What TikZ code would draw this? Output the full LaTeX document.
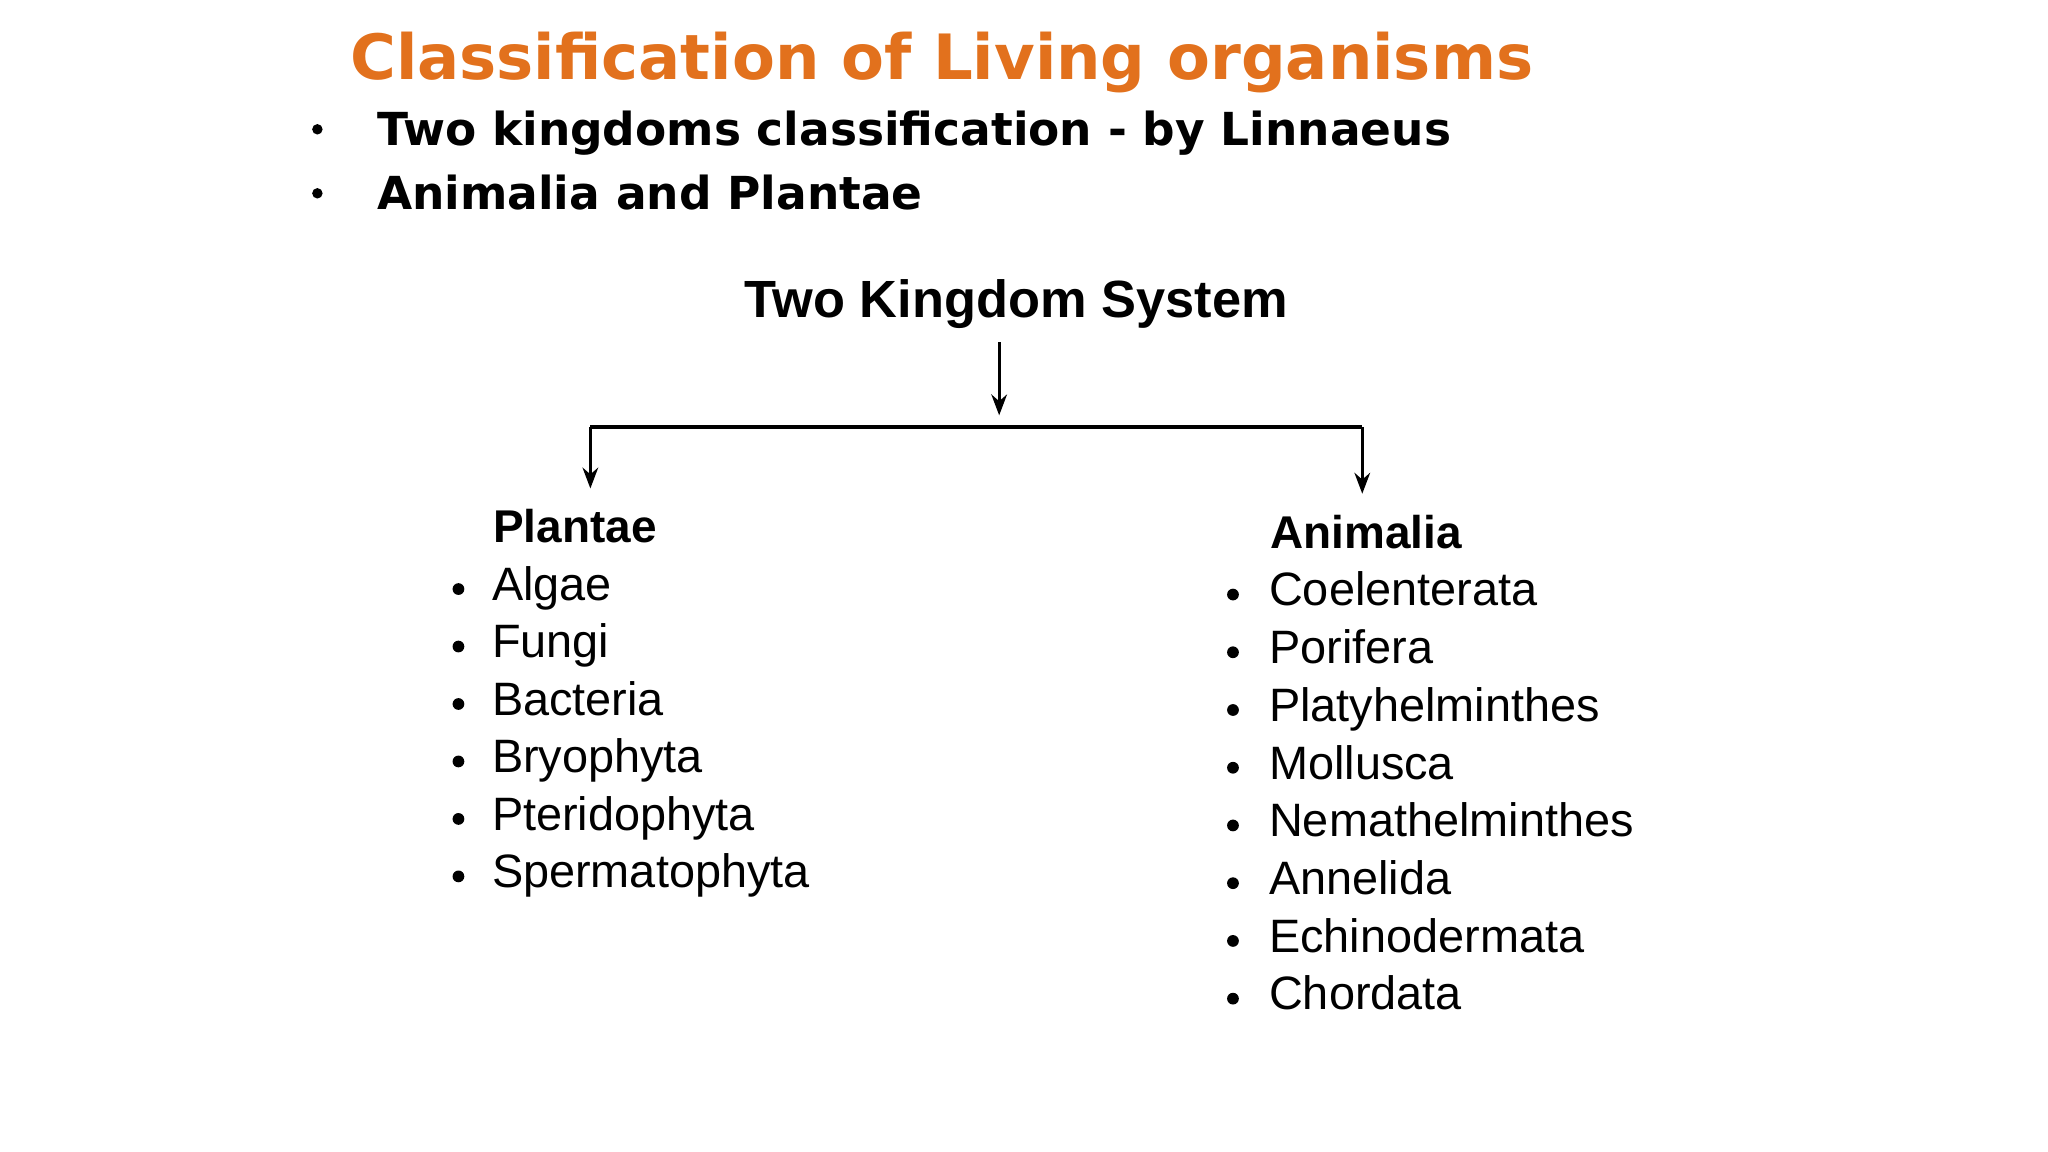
\documentclass[tikz,border=0pt]{standalone}
\usetikzlibrary{arrows.meta}
\usepackage{fontspec}
\setmainfont{Liberation Sans}
\newfontfamily\titlefont{DejaVu Sans}
\definecolor{orangeT}{HTML}{E2711D}
\begin{document}
\begin{tikzpicture}[x=0.01cm,y=-0.01cm,
  item/.style={anchor=west,inner sep=0pt,text height=1.6ex,text depth=0.45ex,font=\fontsize{10.2}{12}\selectfont},
  head/.style={anchor=west,inner sep=0pt,text height=1.6ex,text depth=0.45ex,font=\fontsize{10}{12}\selectfont\bfseries},
  dot/.style={circle,fill=black,inner sep=0pt,minimum size=0.09cm},
  arr/.style={-{Stealth[length=0.16cm,width=0.12cm]},line width=0.6pt}]
\useasboundingbox (0,0) rectangle (1568,882);
\node (title) at (721,48) [inner sep=0pt,font=\titlefont\bfseries\fontsize{13.6}{16}\selectfont,text=orangeT] {Classification of Living organisms};
\node (b1) at (243,99) [dot,minimum size=0.08cm] {};
\node (b2) at (243,148) [dot,minimum size=0.08cm] {};
\node (t1) at (288,101) [anchor=west,inner sep=0pt,text height=1.6ex,text depth=0.45ex,font=\titlefont\bfseries\fontsize{9.9}{12}\selectfont] {Two kingdoms classification - by Linnaeus};
\node (t2) at (288,150) [anchor=west,inner sep=0pt,text height=1.6ex,text depth=0.45ex,font=\titlefont\bfseries\fontsize{9.9}{12}\selectfont] {Animalia and Plantae};
\node (sys) at (778,233) [inner sep=0pt,font=\fontsize{11.4}{14}\selectfont\bfseries] {Two Kingdom System};
\coordinate (a0) at (765,262);
\coordinate (a1) at (765,318);
\coordinate (l) at (452,327);
\coordinate (r) at (1043,327);
\coordinate (lp) at (452,374);
\coordinate (rp) at (1043,378);
\draw[arr] (a0) -- (a1);
\draw[line width=0.8pt] (l) -- (r);
\draw[arr] (l) -- (lp);
\draw[arr] (r) -- (rp);
\node (pl) at (377,405) [head] {Plantae};
\foreach \t [count=\i] in {Algae,Fungi,Bacteria,Bryophyta,Pteridophyta,Spermatophyta}{
  \node (pd\i) at (351,{407+44*\i}) [dot] {};
  \node (p\i) at (376,{405+44*\i}) [item] {\t};
}
\node (an) at (972,409) [head] {Animalia};
\foreach \t [count=\i] in {Coelenterata,Porifera,Platyhelminthes,Mollusca,Nemathelminthes,Annelida,Echinodermata,Chordata}{
  \node (ad\i) at (944,{411+44.2*\i}) [dot] {};
  \node (a\i) at (971,{409+44.2*\i}) [item] {\t};
}
\end{tikzpicture}
\end{document}
